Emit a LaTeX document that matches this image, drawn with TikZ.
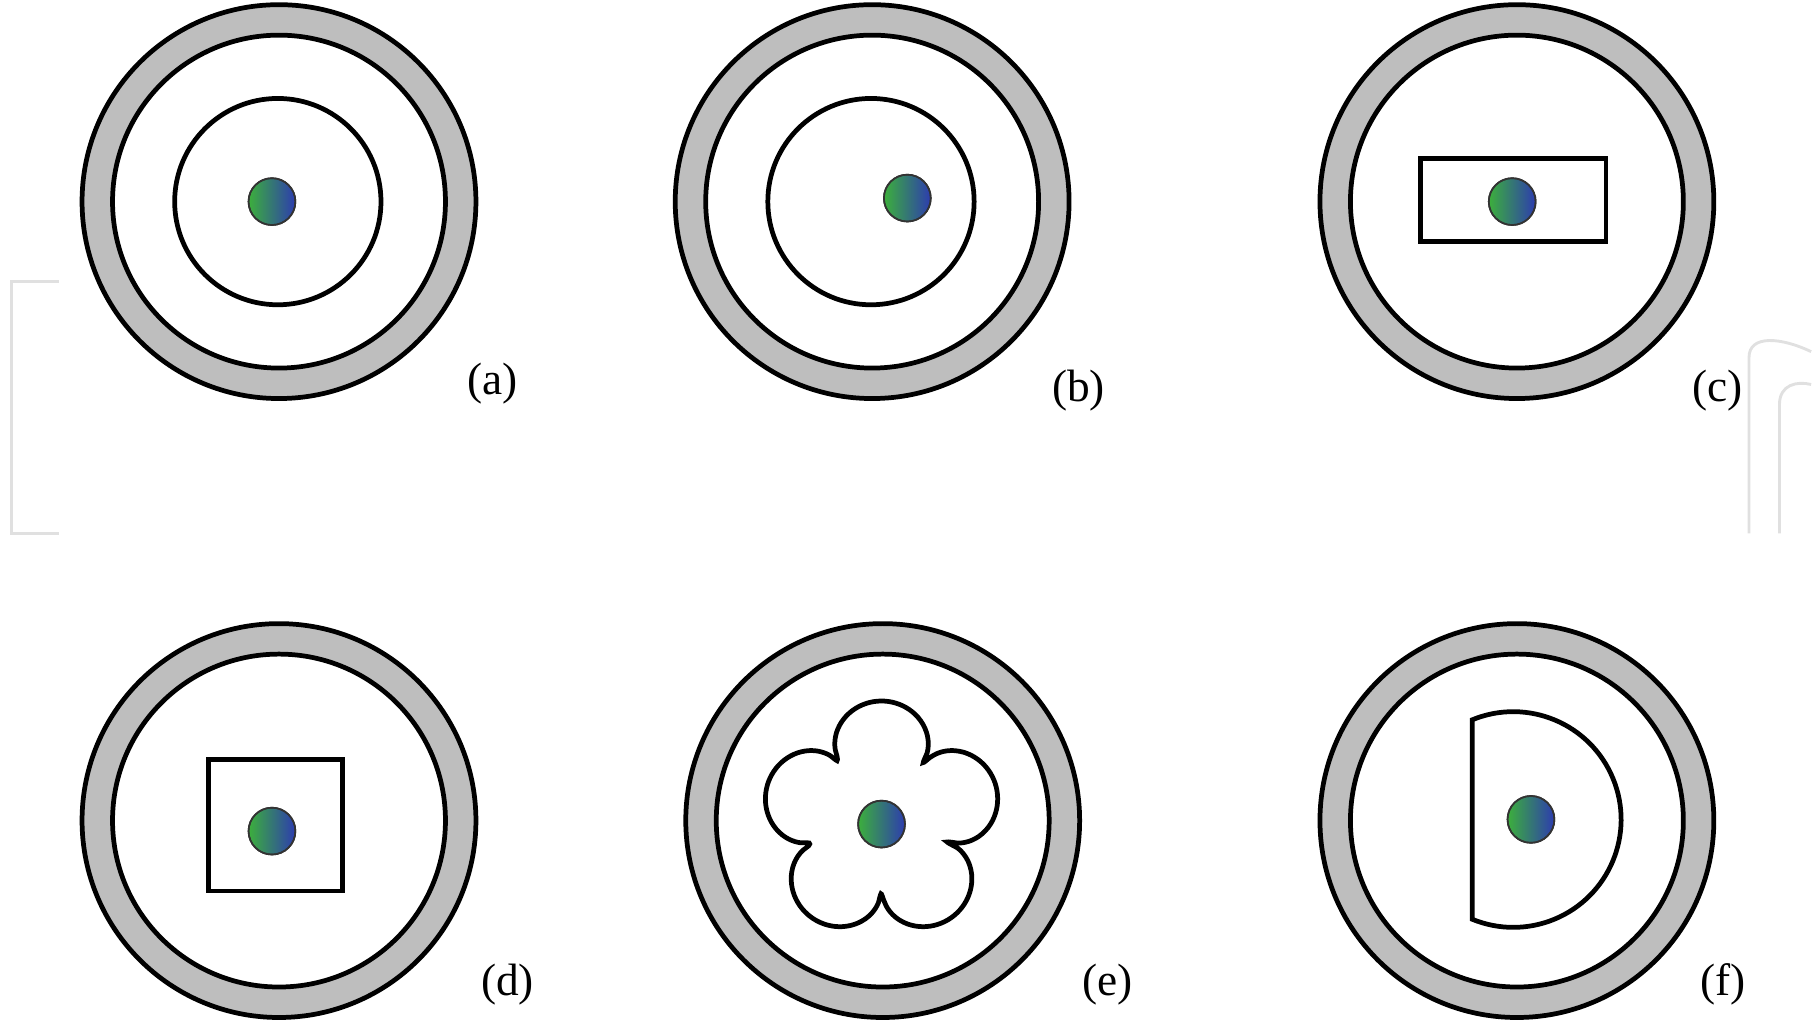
\documentclass[tikz,border=0pt]{standalone}
\usepackage{fontspec}
\setmainfont{Liberation Serif}
\begin{document}
\begin{tikzpicture}[x=0.01cm,y=-0.01cm]
\definecolor{dg}{RGB}{60,175,60}
\definecolor{db}{RGB}{45,60,175}
\definecolor{ring}{RGB}{190,190,190}
\tikzset{
  blk/.style={draw=black,line width=1.15pt},
  dot/.style={draw=black!80,line width=0.4pt,left color=dg,right color=db},
  lab/.style={font=\fontsize{11}{13}\selectfont,inner sep=0pt},
  wm/.style={draw=black!12,line width=0.7pt}
}
\useasboundingbox (0,0) rectangle (1550,877);
% watermark
\draw[wm] (50,455)--(10,455)--(10,240)--(50,240);
\draw[wm] (1492,455)--(1492,305) .. controls (1492,285) and (1520,288) .. (1545,300);
\draw[wm] (1518,455)--(1518,345) .. controls (1518,328) and (1533,325) .. (1545,328);
% tubes
\foreach \cx/\cy/\n in {238/172/a,744/172/b,1294/172/c,238/700/d,753/700/e,1294/700/f}{
  \path[fill=ring,even odd rule] (\cx,\cy) circle[radius=168] (\cx,\cy) circle[radius=142];
  \draw[blk] (\cx,\cy) circle[radius=168];
  \draw[blk] (\cx,\cy) circle[radius=142];
  \coordinate (c\n) at (\cx,\cy);
}
% inner shapes
\draw[blk] (237,172) circle[radius=88];
\draw[blk] (743,172) circle[radius=88];
\draw[blk] (1212,135) rectangle (1370,206);
\draw[blk] (178,648) rectangle (292,760);
\draw[blk,smooth,samples=200,domain=0:360] plot ({752+(56+46*sqrt(abs(cos(5*(\x+90)/2))))*cos(\x)},{700+(56+46*sqrt(abs(cos(5*(\x+90)/2))))*sin(\x)}) -- cycle;
\draw[blk] (1256,614) arc[start angle=-112.3,end angle=112.3,radius=92] -- cycle;
% dots
\foreach \x/\y in {232/172,774/169,1290/172,232/709,752/703,1306/699}
  \shade[dot] (\x,\y) circle[radius=20];
\draw[draw=black!80,line width=0.4pt] \foreach \x/\y in {232/172,774/169,1290/172,232/709,752/703,1306/699}{(\x,\y) circle[radius=20]};
% labels
\node[lab] (la) at (420,327) {(a)};
\node[lab] (lb) at (920,333) {(b)};
\node[lab] (lc) at (1465,333) {(c)};
\node[lab] (ld) at (433,840) {(d)};
\node[lab] (le) at (945,840) {(e)};
\node[lab] (lf) at (1470,840) {(f)};
\end{tikzpicture}
\end{document}
